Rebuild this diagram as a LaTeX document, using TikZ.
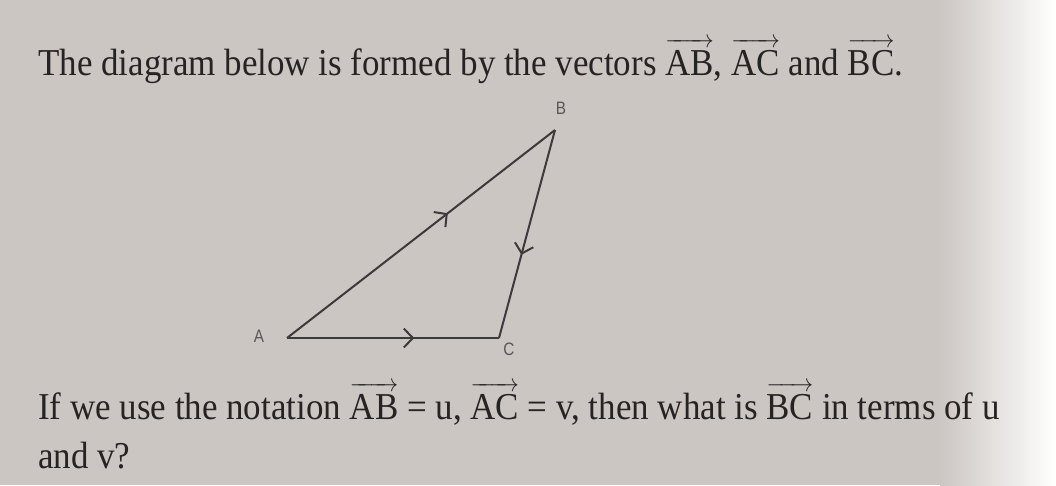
\documentclass[tikz,border=0pt]{standalone}
\usepackage{fontspec}
\setmainfont{Liberation Serif}
\setsansfont{Liberation Sans}
\usetikzlibrary{decorations.markings,arrows.meta}
\definecolor{paper}{RGB}{204,198,195}
\definecolor{ink}{RGB}{38,35,35}
\definecolor{lineink}{RGB}{60,58,58}
\newcommand{\vecr}[1]{$\overrightarrow{\hbox{\rule{0pt}{0.76em}#1}}$}
\tikzset{
  txt/.style={anchor=base west, inner sep=0pt, text=ink, font=\fontsize{38}{44}\selectfont, xscale=0.92},
  ptlabel/.style={text=lineink!85, font=\sffamily\fontsize{18}{20}\selectfont, inner sep=0pt, xscale=0.85},
  vecline/.style={draw=lineink, line width=2pt, postaction={decorate},
    decoration={markings, mark=at position 0.6 with {\arrow[line width=2pt]{Straight Barb[length=9pt,width=19pt]}}}},
}
\begin{document}
\begin{tikzpicture}[x=1pt,y=-1pt]
\fill[paper] (0,0) rectangle (1056,485);
\shade[left color=paper, right color=white] (940,0) rectangle (1056,485);
\useasboundingbox (0,0) rectangle (1056,485);
\node[txt] (t1) at (38,75) {The diagram below is formed by the vectors \vecr{AB}, \vecr{AC} and \vecr{BC}.};
\node[txt] (t2) at (38,419) {If we use the notation \vecr{AB} = u, \vecr{AC} = v, then what is \vecr{BC} in terms of u};
\node[txt] (t3) at (38,468) {and v?};
\coordinate (A) at (287,338);
\coordinate (B) at (555,130);
\coordinate (C) at (499,338);
\node[ptlabel] (la) at (259,336) {A};
\node[ptlabel] (lb) at (561,108) {B};
\node[ptlabel] (lc) at (509,349) {C};
\draw[vecline] (A) -- (B);
\draw[vecline] (A) -- (C);
\draw[vecline] (B) -- (C);
\end{tikzpicture}
\end{document}
